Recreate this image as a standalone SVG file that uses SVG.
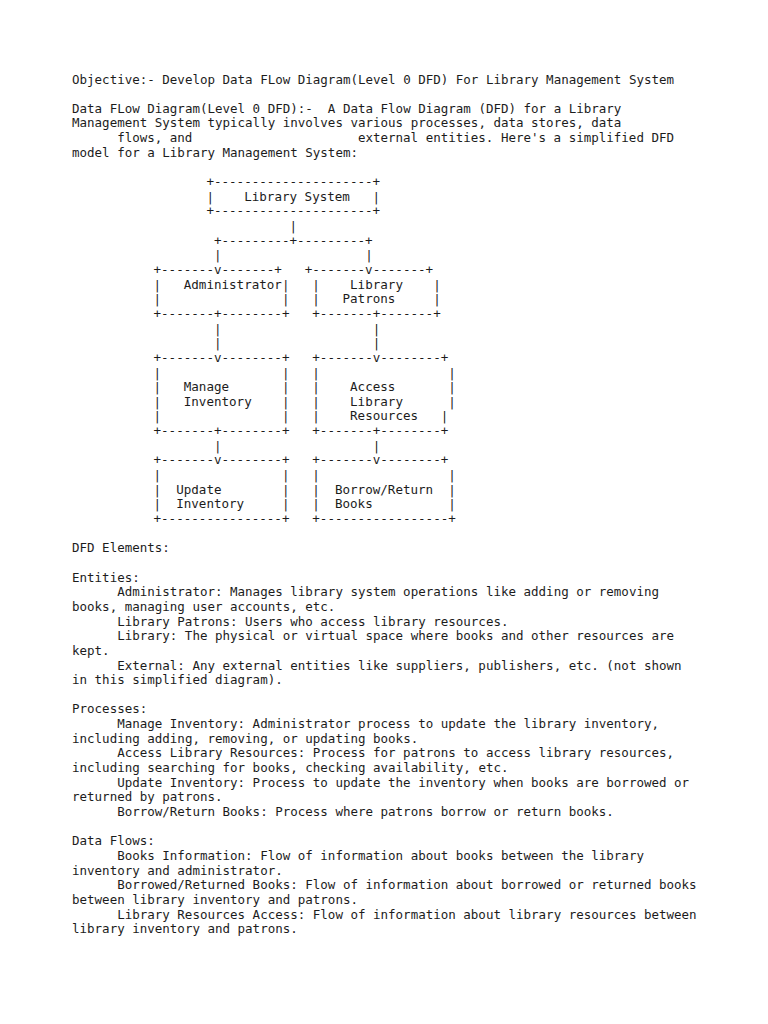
<svg xmlns="http://www.w3.org/2000/svg" width="768" height="1024" viewBox="0 0 768 1024">
<style>
text{white-space:pre}
.p{font-family:"DejaVu Sans Mono","Liberation Mono",monospace;font-size:12.5px;fill:#1c1c1c;white-space:pre}
.d{font-family:"DejaVu Sans Mono","Liberation Mono",monospace;font-size:12.56px;fill:#1c1c1c;white-space:pre}
</style>
<rect width="768" height="1024" fill="#ffffff"/>
<g id="intro">
<text class="p" x="72" y="83.5">Objective:- Develop Data FLow Diagram(Level 0 DFD) For Library Management System</text>
<text class="p" x="72" y="112.8" xml:space="preserve">Data FLow Diagram(Level 0 DFD):-  A Data Flow Diagram (DFD) for a Library</text>
<text class="p" x="72" y="127.45">Management System typically involves various processes, data stores, data</text>
<text class="p" x="117.15" y="142.1">flows, and</text>
<text class="p" x="357.95" y="142.1">external entities. Here's a simplified DFD</text>
<text class="p" x="72" y="156.75">model for a Library Management System:</text>
</g>
<g id="node-library-system">
<text class="d" x="206.4" y="186.05">+---------------------+</text>
<text class="d" x="206.4" y="200.7" xml:space="preserve">|    Library System   |</text>
<text class="d" x="206.4" y="215.35">+---------------------+</text>
</g>
<g id="connectors">
<text class="d" x="289.6" y="230">|</text>
<text class="d" x="214.0" y="244.65">+---------+---------+</text>
<text class="d" x="214.0" y="259.3">|</text>
<text class="d" x="365.2" y="259.3">|</text>
<text class="d" x="214.0" y="332.55">|</text>
<text class="d" x="372.7" y="332.55">|</text>
<text class="d" x="214.0" y="347.2">|</text>
<text class="d" x="372.7" y="347.2">|</text>
<text class="d" x="214.0" y="449.75">|</text>
<text class="d" x="372.7" y="449.75">|</text>
</g>
<g id="node-administrator">
<text class="d" x="153.5" y="273.95">+-------v-------+</text>
<text class="d" x="153.5" y="288.6" xml:space="preserve">|   Administrator|</text>
<text class="d" x="153.5" y="303.25" xml:space="preserve">|                |</text>
<text class="d" x="153.5" y="317.9">+-------+--------+</text>
</g>
<g id="node-library-patrons">
<text class="d" x="304.7" y="273.95">+-------v-------+</text>
<text class="d" x="312.3" y="288.6" xml:space="preserve">|    Library    |</text>
<text class="d" x="312.3" y="303.25" xml:space="preserve">|   Patrons     |</text>
<text class="d" x="312.3" y="317.9">+-------+-------+</text>
</g>
<g id="node-manage-inventory">
<text class="d" x="153.5" y="361.85">+-------v--------+</text>
<text class="d" x="153.5" y="376.5" xml:space="preserve">|                |</text>
<text class="d" x="153.5" y="391.15" xml:space="preserve">|   Manage       |</text>
<text class="d" x="153.5" y="405.8" xml:space="preserve">|   Inventory    |</text>
<text class="d" x="153.5" y="420.45" xml:space="preserve">|                |</text>
<text class="d" x="153.5" y="435.1">+-------+--------+</text>
</g>
<g id="node-access-library-resources">
<text class="d" x="312.3" y="361.85">+-------v--------+</text>
<text class="d" x="312.3" y="376.5" xml:space="preserve">|                 |</text>
<text class="d" x="312.3" y="391.15" xml:space="preserve">|    Access       |</text>
<text class="d" x="312.3" y="405.8" xml:space="preserve">|    Library      |</text>
<text class="d" x="312.3" y="420.45" xml:space="preserve">|    Resources   |</text>
<text class="d" x="312.3" y="435.1">+-------+--------+</text>
</g>
<g id="node-update-inventory">
<text class="d" x="153.5" y="464.4">+-------v--------+</text>
<text class="d" x="153.5" y="479.05" xml:space="preserve">|                |</text>
<text class="d" x="153.5" y="493.7" xml:space="preserve">|  Update        |</text>
<text class="d" x="153.5" y="508.35" xml:space="preserve">|  Inventory     |</text>
<text class="d" x="153.5" y="523">+----------------+</text>
</g>
<g id="node-borrow-return-books">
<text class="d" x="312.3" y="464.4">+-------v--------+</text>
<text class="d" x="312.3" y="479.05" xml:space="preserve">|                 |</text>
<text class="d" x="312.3" y="493.7" xml:space="preserve">|  Borrow/Return  |</text>
<text class="d" x="312.3" y="508.35" xml:space="preserve">|  Books          |</text>
<text class="d" x="312.3" y="523">+-----------------+</text>
</g>
<g id="elements">
<text class="p" x="72" y="552.3">DFD Elements:</text>
<text class="p" x="72" y="581.6">Entities:</text>
<text class="p" x="117.15" y="596.25">Administrator: Manages library system operations like adding or removing</text>
<text class="p" x="72" y="610.9">books, managing user accounts, etc.</text>
<text class="p" x="117.15" y="625.55">Library Patrons: Users who access library resources.</text>
<text class="p" x="117.15" y="640.2">Library: The physical or virtual space where books and other resources are</text>
<text class="p" x="72" y="654.85">kept.</text>
<text class="p" x="117.15" y="669.5">External: Any external entities like suppliers, publishers, etc. (not shown</text>
<text class="p" x="72" y="684.15">in this simplified diagram).</text>
<text class="p" x="72" y="713.45">Processes:</text>
<text class="p" x="117.15" y="728.1">Manage Inventory: Administrator process to update the library inventory,</text>
<text class="p" x="72" y="742.75">including adding, removing, or updating books.</text>
<text class="p" x="117.15" y="757.4">Access Library Resources: Process for patrons to access library resources,</text>
<text class="p" x="72" y="772.05">including searching for books, checking availability, etc.</text>
<text class="p" x="117.15" y="786.7">Update Inventory: Process to update the inventory when books are borrowed or</text>
<text class="p" x="72" y="801.35">returned by patrons.</text>
<text class="p" x="117.15" y="816">Borrow/Return Books: Process where patrons borrow or return books.</text>
<text class="p" x="72" y="845.3">Data Flows:</text>
<text class="p" x="117.15" y="859.95">Books Information: Flow of information about books between the library</text>
<text class="p" x="72" y="874.6">inventory and administrator.</text>
<text class="p" x="117.15" y="889.25">Borrowed/Returned Books: Flow of information about borrowed or returned books</text>
<text class="p" x="72" y="903.9">between library inventory and patrons.</text>
<text class="p" x="117.15" y="918.55">Library Resources Access: Flow of information about library resources between</text>
<text class="p" x="72" y="933.2">library inventory and patrons.</text>
</g>
</svg>
